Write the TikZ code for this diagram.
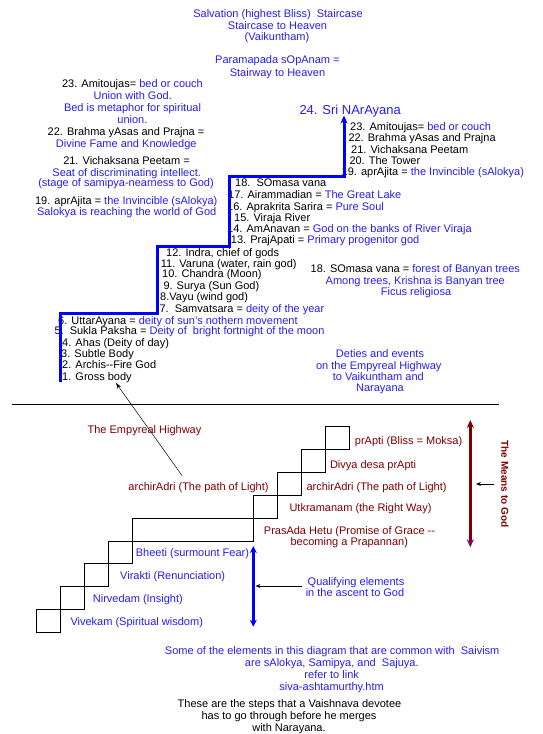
\documentclass[tikz,border=0pt]{standalone}
\usepackage{fontspec}
\setmainfont{Liberation Sans}
\usetikzlibrary{arrows.meta}
\definecolor{tb}{RGB}{40,30,240}
\definecolor{lb}{RGB}{0,0,255}
\definecolor{mr}{RGB}{128,0,0}
\definecolor{pu}{RGB}{128,0,128}
\newcommand\fs{\fontsize{11}{13}\selectfont}
\newcommand\fb{\fontsize{13}{15}\selectfont}
\tikzset{
  lbl/.style={inner sep=0pt, font=\fs, anchor=base west},
  clbl/.style={inner sep=0pt, font=\fs, anchor=base},
  blu/.style={text=tb},
  red/.style={text=mr},
  stair/.style={draw=black, line width=0.9pt},
  hwy/.style={draw=lb, line width=3pt, line join=miter},
  thin/.style={draw=black, line width=0.7pt},
}
\begin{document}
\begin{tikzpicture}[x=1pt,y=-1pt]
\fill[white] (0,0) rectangle (542,734);
\useasboundingbox (0,0) rectangle (542,734);
% title
\node[clbl,blu] (t1) at (278,17) {Salvation (highest Bliss)\ \ Staircase};
\node[clbl,blu] (t2) at (277.5,29) {Staircase to Heaven};
\node[clbl,blu] (t3) at (277,40) {(Vaikuntham)};
\node[clbl,blu] (t4) at (277.4,63.8) {Paramapada sOpAnam =};
\node[clbl,blu] (t5) at (277.5,76.2) {Stairway to Heaven};
% left column
\node[clbl] (l1) at (132.5,87.7) {23. Amitoujas= \textcolor{tb}{bed or couch}};
\node[clbl,blu] (l2) at (132.7,99) {Union with God.};
\node[clbl,blu] (l3) at (132.5,111.5) {Bed is metaphor for spiritual};
\node[clbl,blu] (l4) at (132.4,123.3) {union.};
\node[clbl] (l5) at (126,135.7) {22. Brahma yAsas and Prajna =};
\node[clbl,blu] (l6) at (126.3,147.7) {Divine Fame and Knowledge};
\node[clbl] (l7) at (126.5,164.7) {21. Vichaksana Peetam =};
\node[clbl,blu] (l8) at (126.7,176) {Seat of discriminating intellect.};
\node[clbl,blu] (l9) at (126,186.7) {(stage of samipya-nearness to God)};
\node[clbl] (l10) at (126.2,204) {19. aprAjita = \textcolor{tb}{the Invincible (sAlokya)}};
\node[clbl,blu] (l11) at (126.7,215.3) {Salokya is reaching the world of God};
% top goal
\node[inner sep=0pt, font=\fb, anchor=base west, text=tb] (nara) at (299.3,114.7) {24. Sri NArAyana};
% right list
\node[lbl] (r23) at (350,130.7) {23. Amitoujas= \textcolor{tb}{bed or couch}};
\node[lbl] (r22) at (348.3,141.7) {22. Brahma yAsas and Prajna};
\node[lbl] (r21) at (351,153) {21. Vichaksana Peetam};
\node[lbl] (r20) at (349.3,164.7) {20. The Tower};
\node[lbl] (r19) at (341.5,175.3) {19. aprAjita = \textcolor{tb}{the Invincible (sAlokya)}};
\node[lbl] (r18) at (235,186.3) {18.\ \ SOmasa vana};
\node[lbl] (r17) at (228,198.3) {17. Airammadian = \textcolor{tb}{The Great Lake}};
\node[lbl] (r16) at (227,210) {16. Aprakrita Sarira = \textcolor{tb}{Pure Soul}};
\node[lbl] (r15) at (234,221.3) {15. Viraja River};
\node[lbl] (r14) at (227,232.3) {14. AmAnavan = \textcolor{tb}{God on the banks of River Viraja}};
\node[lbl] (r13) at (230.7,243.3) {13. PrajApati = \textcolor{tb}{Primary progenitor god}};
\node[lbl] (r12) at (166,256.3) {12. Indra, chief of gods};
\node[lbl] (r11) at (160.7,267) {11. Varuna (water, rain god)};
\node[lbl] (r10) at (162,277.7) {10. Chandra (Moon)};
\node[lbl] (r9) at (163.3,289) {9. Surya (Sun God)};
\node[lbl] (r8) at (160,300.7) {8.Vayu (wind god)};
\node[lbl] (r7) at (159.3,312.7) {7.\ \ Samvatsara = \textcolor{tb}{deity of the year}};
\node[lbl] (r6) at (58,324) {6. UttarAyana = \textcolor{tb}{deity of sun's nothern movement}};
\node[lbl] (r5) at (54.3,334.7) {5.\ \ Sukla Paksha = \textcolor{tb}{Deity of\ \ bright fortnight of the moon}};
\node[lbl] (r4) at (62,346.3) {4. Ahas (Deity of day)};
\node[lbl] (r3) at (61,357.7) {3. Subtle Body};
\node[lbl] (r2) at (62,368.7) {2. Archis-{}-Fire God};
\node[lbl] (r1) at (62,380.7) {1. Gross body};
% right middle
\node[clbl] (s1) at (415.3,272.7) {18. SOmasa vana = \textcolor{tb}{forest of Banyan trees}};
\node[clbl,blu] (s2) at (415.3,284) {Among trees, Krishna is Banyan tree};
\node[clbl,blu] (s3) at (416,295.7) {Ficus religiosa};
\node[clbl,blu] (d1) at (380,357.7) {Deties and events};
\node[clbl,blu] (d2) at (378.8,369) {on the Empyreal Highway};
\node[clbl,blu] (d3) at (378.3,380.7) {to Vaikuntham and};
\node[clbl,blu] (d4) at (380,391.7) {Narayana};
% blue highway staircase
\coordinate (b0) at (60.7,382);
\coordinate (b1) at (60.7,313);
\coordinate (b2) at (157.3,313);
\coordinate (b3) at (157.3,246);
\coordinate (b4) at (229.5,246);
\coordinate (b5) at (229.5,176.5);
\coordinate (b6) at (344,176.5);
\coordinate (b7) at (344,115.5);
\draw[hwy, -{Stealth[length=8pt,width=7pt]}] (b0) -- (b1) -- (b2) -- (b3) -- (b4) -- (b5) -- (b6) -- (b7);
% separator
\coordinate (sepL) at (12,404.3);
\coordinate (sepR) at (499,404.3);
\draw[thin] (sepL) -- (sepR);
% lower labels
\node[clbl,red] (emp) at (144.5,433.1) {The Empyreal Highway};
\node[lbl,red] (k1) at (354.7,444.9) {prApti (Bliss = Moksa)};
\node[lbl,red] (k2) at (329.8,468.4) {Divya desa prApti};
\node[clbl,red] (k3a) at (198.5,490) {archirAdri (The path of Light)};
\node[lbl,red] (k3) at (306.3,490) {archirAdri (The path of Light)};
\node[lbl,red] (k4) at (289.3,511.7) {Utkramanam (the Right Way)};
\node[clbl,red] (k5) at (349.5,534.7) {PrasAda Hetu (Promise of Grace -{}-};
\node[clbl,red] (k5b) at (349.3,545.7) {becoming a Prapannan)};
\node[lbl,blu] (q4) at (135.7,556.7) {Bheeti (surmount Fear)};
\node[lbl,blu] (q3) at (120,579.7) {Virakti (Renunciation)};
\node[lbl,blu] (q2) at (92.7,602.7) {Nirvedam (Insight)};
\node[lbl,blu] (q1) at (70.3,625.7) {Vivekam (Spiritual wisdom)};
\node[clbl,blu] (qa) at (356,585.7) {Qualifying elements};
\node[clbl,blu] (qb) at (355,596.7) {in the ascent to God};
% highway pointer
\coordinate (hw0) at (182,475.5);
\coordinate (hw1) at (116,383);
\draw[draw=black, line width=0.5pt, -{Stealth[length=6pt,width=4pt]}] (hw0) -- (hw1);
% staircase outline
\draw[stair] (36.3,632.3) -- (36.3,609) -- (84.3,609) -- (84.3,563.3) -- (132.3,563.3) -- (132.3,518.3) -- (277.3,518.3) -- (277.3,472.3) -- (325.7,472.3) -- (325.7,426.7) -- (349.3,426.7) -- (349.3,449.3) -- (301.7,449.3) -- (301.7,495.3) -- (253.3,495.3) -- (253.3,541) -- (108.3,541) -- (108.3,586) -- (60.3,586) -- (60.3,632.3) -- cycle;
% blue double arrow
\coordinate (ba0) at (253.3,546);
\coordinate (ba1) at (253.3,626.7);
\draw[draw=lb, line width=3pt, {Stealth[length=7pt,width=7pt]}-{Stealth[length=7pt,width=7pt]}] (ba0) -- (ba1);
\coordinate (qa0) at (302,586);
\coordinate (qa1) at (255.5,586);
\draw[thin, -{Stealth[length=5pt,width=4pt]}] (qa0) -- (qa1);
% means to god
\coordinate (m0) at (470.3,420);
\coordinate (m1) at (470.3,547.3);
\draw[draw=mr, line width=3pt, {Stealth[length=8pt,width=7pt,color=mr]}-{Stealth[length=8pt,width=7pt,color=pu]}] (m0) -- (m1);
\node[inner sep=0pt, font=\fontsize{10}{12}\selectfont\bfseries, text=mr, rotate=-90] (means) at (505,484) {The Means to God};
\coordinate (ma0) at (494,484);
\coordinate (ma1) at (476,484);
\draw[thin, -{Stealth[length=5pt,width=4pt]}] (ma0) -- (ma1);
% bottom notes
\node[clbl,blu] (n1) at (332.2,654.7) {Some of the elements in this diagram that are common with\ \ Saivism};
\node[clbl,blu] (n2) at (331.8,666.1) {are sAlokya, Samipya, and\ \ Sajuya.};
\node[clbl,blu] (n3) at (331.7,678.2) {refer to link};
\node[clbl,blu] (n4) at (331.6,690) {siva-ashtamurthy.htm};
\node[clbl] (n5) at (289.5,707.6) {These are the steps that a Vaishnava devotee};
\node[clbl] (n6) at (289,719.7) {has to go through before he merges};
\node[clbl] (n7) at (289,731.5) {with Narayana.};
\end{tikzpicture}
\end{document}
